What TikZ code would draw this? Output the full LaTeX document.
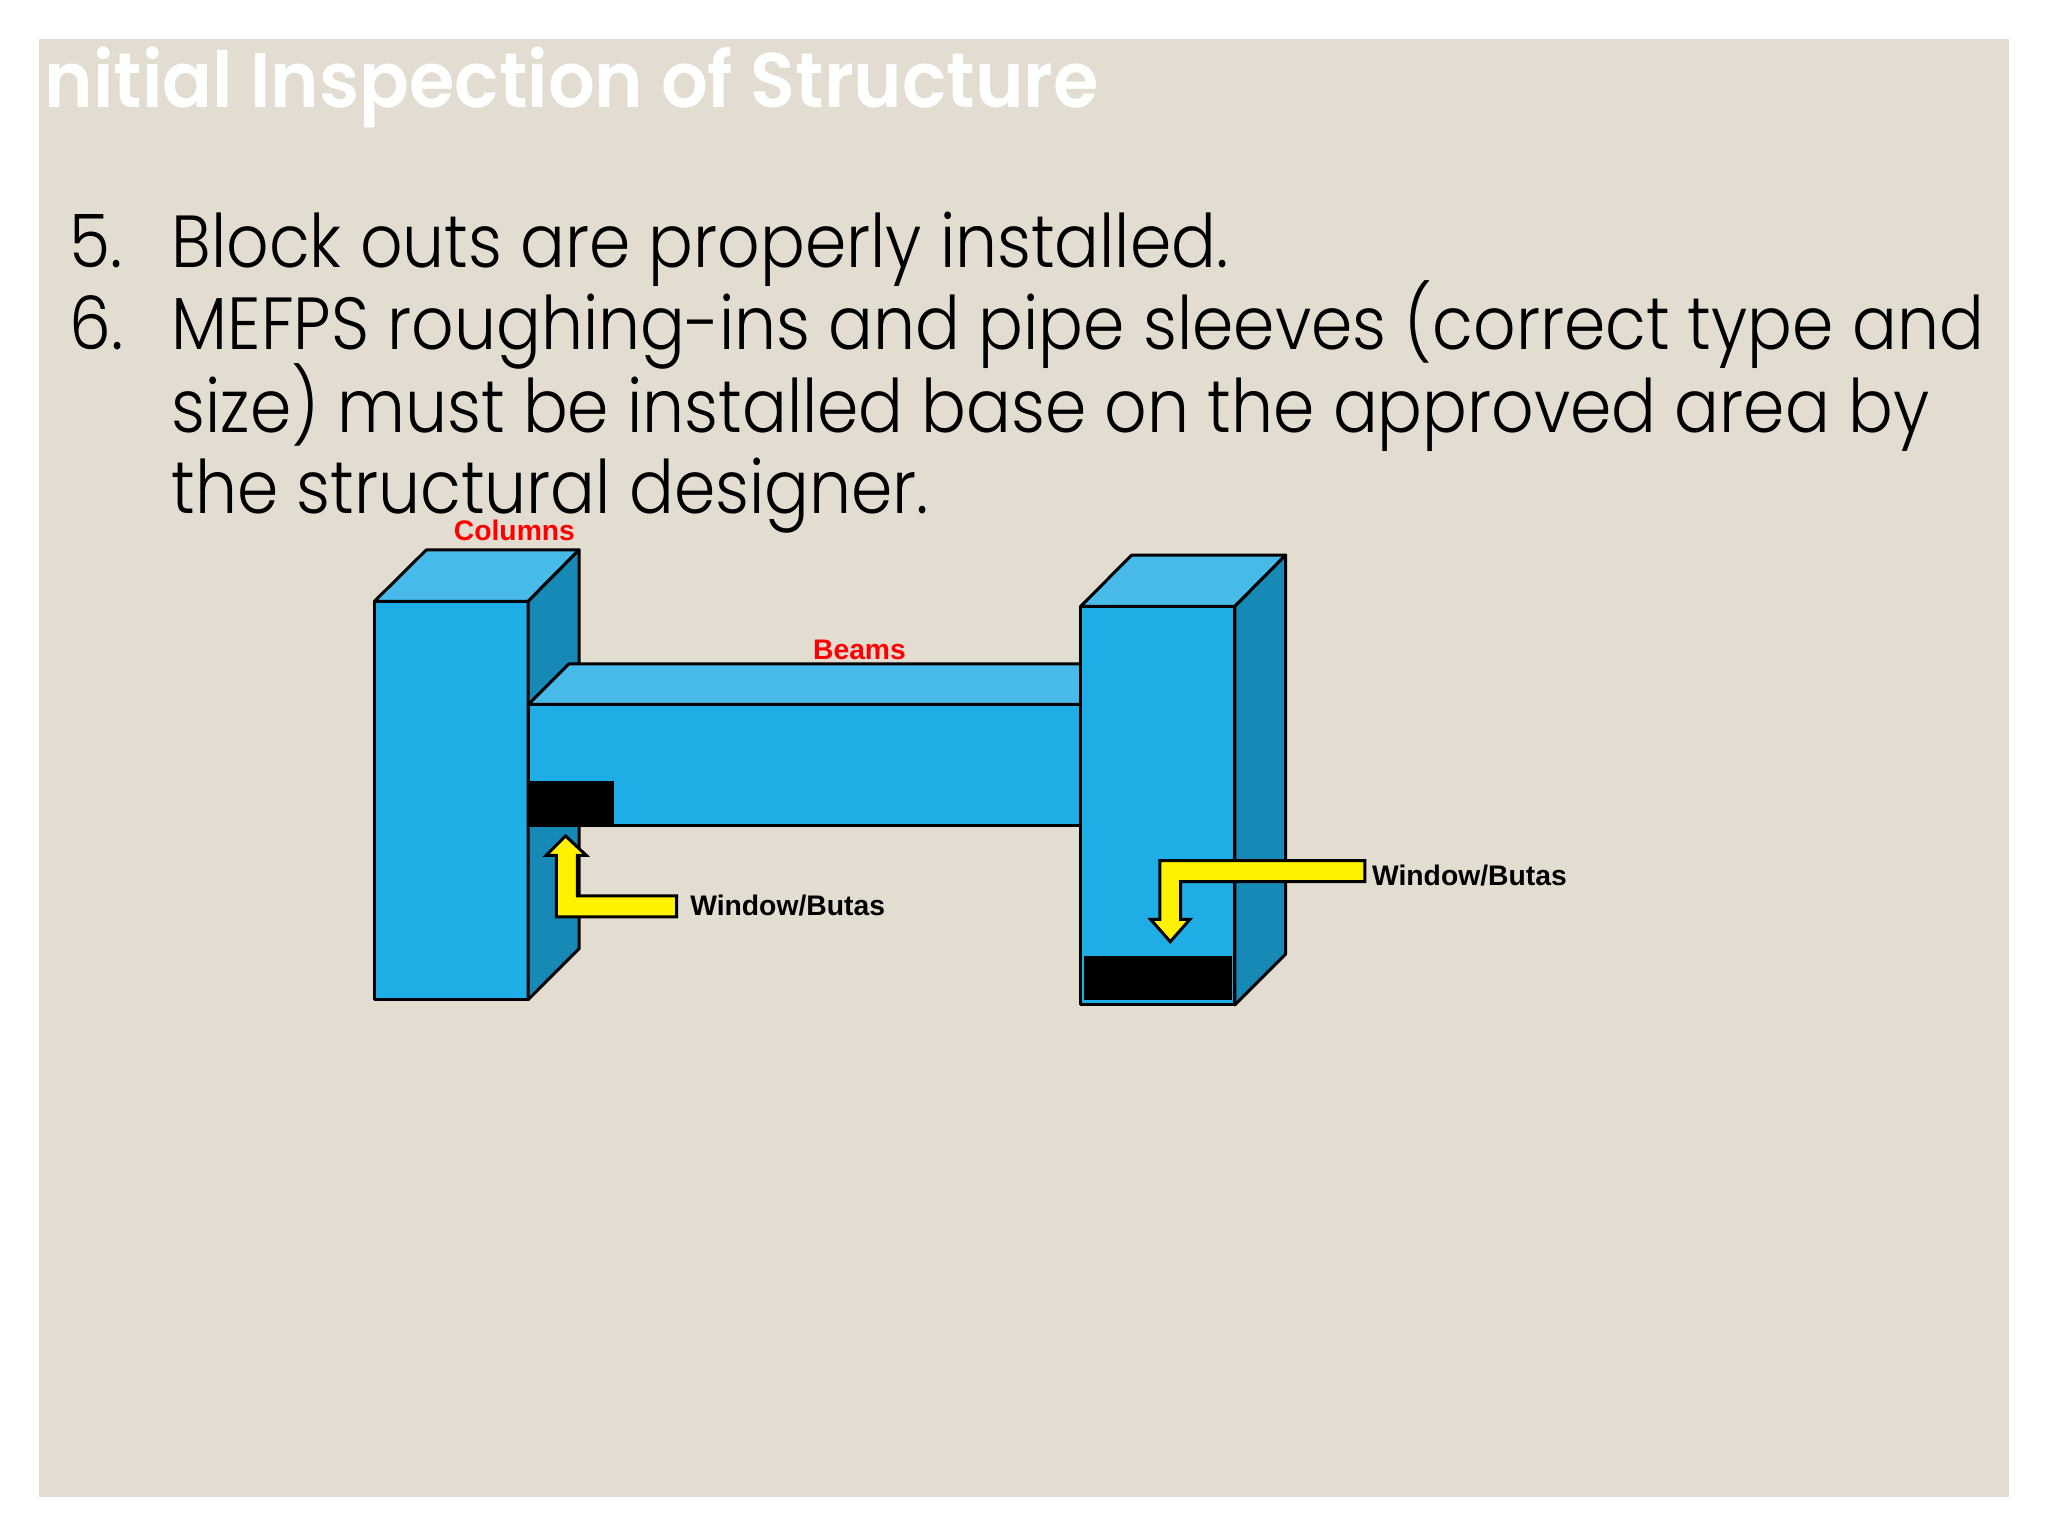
\documentclass[tikz,border=0pt]{standalone}
\usepackage{fontspec}
\setmainfont{Poppins}[UprightFont=* Light,BoldFont=* SemiBold,UprightFeatures={FakeStretch=0.9},BoldFeatures={FakeStretch=0.951}]
\newfontfamily\labelfont{Liberation Sans}[Scale=1]
\usepackage{tikz}
\definecolor{slidebg}{HTML}{E3DDD1}
\definecolor{facefront}{HTML}{1EADE4}
\definecolor{facetop}{HTML}{47BAE9}
\definecolor{faceside}{HTML}{1789B6}
\tikzset{
    front/.style={draw=black,line width=0.85pt,line join=round,fill=facefront},
    topface/.style={draw=black,line width=0.85pt,line join=round,fill=facetop},
    sideface/.style={draw=black,line width=0.85pt,line join=round,fill=faceside},
    pointer/.style={draw=black,line width=0.85pt,line join=miter,fill=yellow},
    bodytext/.style={anchor=base west,inner sep=0pt,font=\fontsize{21}{25}\selectfont},
    redlabel/.style={anchor=base west,inner sep=0pt,text=red,font=\labelfont\bfseries\fontsize{8.05}{10}\selectfont},
    blacklabel/.style={anchor=base west,inner sep=0pt,font=\labelfont\bfseries\fontsize{8.05}{10}\selectfont}
}
\begin{document}
\begin{tikzpicture}
    \useasboundingbox (0,0) rectangle (20.48,15.36);
    \fill[white] (0,0) rectangle (20.48,15.36);
    \fill[slidebg] (0.392,0.392) rectangle (20.088,14.968);
    %title and list
    \node[anchor=base west,inner sep=0pt,text=white,font=\bfseries\fontsize{22}{26}\selectfont] (title) at (0.44,14.289) {nitial Inspection of Structure};
    \node[bodytext] (num5) at (0.692,12.682) {5.};
    \node[bodytext] (item5) at (1.71,12.682) {Block outs are properly installed.};
    \node[bodytext] (num6) at (0.692,11.860) {6.};
    \node[bodytext] (item6a) at (1.71,11.860) {MEFPS roughing-ins and pipe sleeves (correct type and};
    \node[bodytext] (item6b) at (1.71,11.037) {size) must be installed base on the approved area by};
    \node[bodytext] (item6c) at (1.71,10.227) {the structural designer.};
    %left column
    \draw[front] (3.745,5.363) rectangle (5.282,9.347);
    \draw[topface] (3.745,9.347) -- (4.263,9.861) -- (5.791,9.861) -- (5.282,9.347) -- cycle;
    \draw[sideface] (5.282,9.347) -- (5.791,9.861) -- (5.791,5.873) -- (5.282,5.363) -- cycle;
    %beam
    \draw[topface] (5.282,8.315) -- (5.687,8.720) -- (10.806,8.720) -- (10.806,8.315) -- cycle;
    \draw[front] (5.282,7.101) rectangle (10.806,8.315);
    \fill[black] (5.282,7.101) rectangle (6.139,7.550);
    %left pointer
    \draw[pointer] (5.655,7.001) -- (5.864,6.805) -- (5.773,6.805) -- (5.773,6.400) -- (6.766,6.400) -- (6.766,6.191) -- (5.564,6.191) -- (5.564,6.805) -- (5.460,6.805) -- cycle;
    %right column
    \draw[front] (10.806,5.311) rectangle (12.348,9.295);
    \draw[topface] (10.806,9.295) -- (11.316,9.809) -- (12.857,9.809) -- (12.348,9.295) -- cycle;
    \draw[sideface] (12.348,9.295) -- (12.857,9.809) -- (12.857,5.820) -- (12.348,5.311) -- cycle;
    \fill[black] (10.835,5.355) rectangle (12.32,5.799);
    %right pointer
    \draw[pointer] (11.703,5.943) -- (11.898,6.165) -- (11.807,6.165) -- (11.807,6.544) -- (13.649,6.544) -- (13.649,6.753) -- (11.598,6.753) -- (11.598,6.165) -- (11.507,6.165) -- cycle;
    %labels
    \node[redlabel] (columns) at (4.532,9.953) {Columns};
    \node[redlabel] (beams) at (8.124,8.764) {Beams};
    \node[blacklabel] (windowa) at (6.896,6.204) {Window/Butas};
    \node[blacklabel] (windowb) at (13.714,6.505) {Window/Butas};
\end{tikzpicture}
\end{document}
